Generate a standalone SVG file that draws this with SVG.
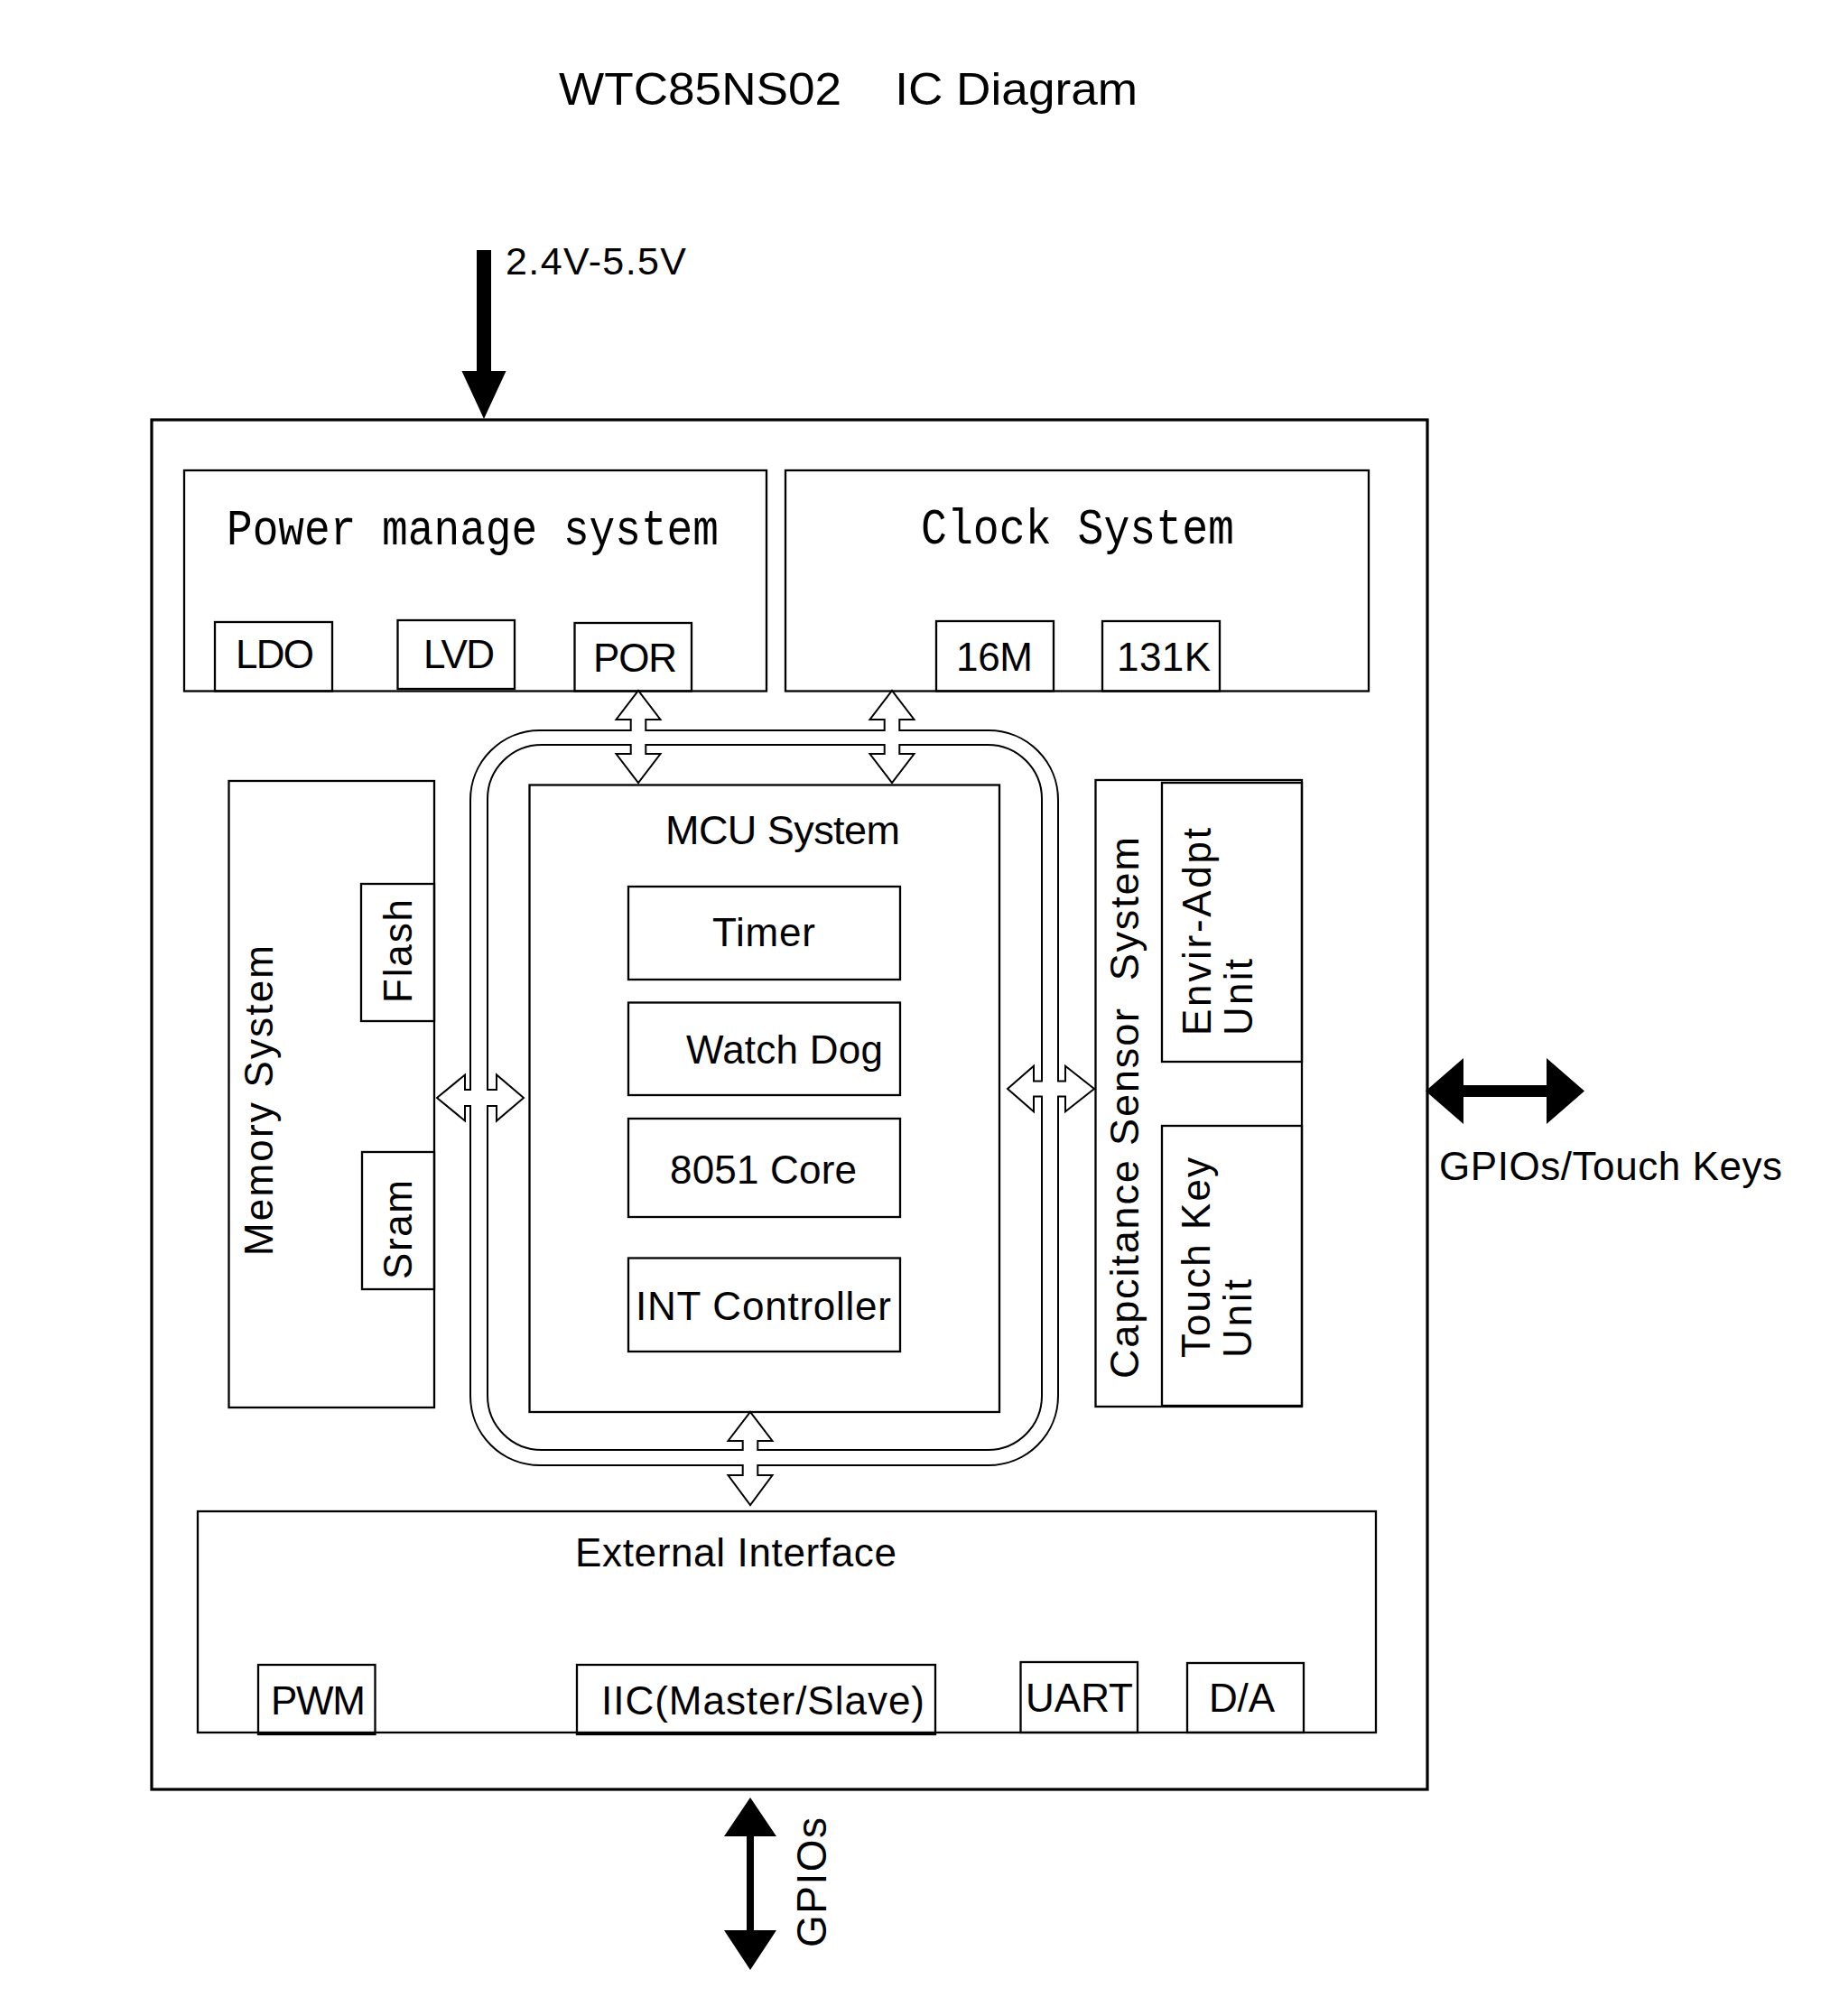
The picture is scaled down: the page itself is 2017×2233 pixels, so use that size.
<svg xmlns="http://www.w3.org/2000/svg" width="2017" height="2233" viewBox="0 0 2017 2233">
<style>
.bx{fill:none;stroke:#000;stroke-width:2.3}
.ob{fill:none;stroke:#000;stroke-width:3.2}
.t{font-family:"Liberation Sans",Arial,sans-serif;font-size:44px;fill:#000}
.m{font-family:"Liberation Mono","Courier New",monospace;font-size:56px;fill:#000}
.ring{fill:none;stroke:#000;stroke-width:2}
.hd{fill:#fff;stroke:#000;stroke-width:2;stroke-linejoin:miter}
.cv{fill:#fff;stroke:none}
.blk{fill:#000;stroke:none}
</style>
<rect width="2017" height="2233" fill="#fff"/>
<g id="title">
<text class="t" x="619" y="116" style="font-size:50px" textLength="641" lengthAdjust="spacingAndGlyphs" xml:space="preserve">WTC85NS02    IC Diagram</text>
</g>
<g id="chip">
<rect class="ob" x="168" y="465" width="1413" height="1517"/>
</g>
<g id="power-manage-system">
<rect class="bx" x="204" y="521" width="645" height="244.5"/>
<text class="m" x="251" y="603" textLength="545" lengthAdjust="spacingAndGlyphs">Power manage system</text>
<g id="ldo"><rect class="bx" x="238" y="689" width="130" height="76.5"/><text class="t" x="261" y="740" textLength="87" lengthAdjust="spacing">LDO</text></g>
<g id="lvd"><rect class="bx" x="440.5" y="687" width="129.5" height="76"/><text class="t" x="469" y="740" textLength="79" lengthAdjust="spacing">LVD</text></g>
<g id="por"><rect class="bx" x="636.5" y="690" width="129.5" height="75.5"/><text class="t" x="657" y="744" textLength="93" lengthAdjust="spacing">POR</text></g>
</g>
<g id="clock-system">
<rect class="bx" x="870" y="521" width="646" height="244.5"/>
<text class="m" x="1020" y="602" textLength="347" lengthAdjust="spacingAndGlyphs">Clock System</text>
<g id="osc-16m"><rect class="bx" x="1037" y="688" width="130" height="77.5"/><text class="t" x="1059" y="743" textLength="85" lengthAdjust="spacing">16M</text></g>
<g id="osc-131k"><rect class="bx" x="1221" y="688" width="130" height="77.5"/><text class="t" x="1237" y="743" textLength="104" lengthAdjust="spacing">131K</text></g>
</g>
<g id="memory-system">
<rect class="bx" x="253.5" y="865" width="227.5" height="694"/>
<text class="t" transform="translate(302,1391) rotate(-90)" textLength="344" lengthAdjust="spacing">Memory System</text>
<g id="flash"><rect class="bx" x="400" y="979" width="81" height="152"/><text class="t" transform="translate(456,1111) rotate(-90)" textLength="115" lengthAdjust="spacing">Flash</text></g>
<g id="sram"><rect class="bx" x="401" y="1276" width="80" height="152"/><text class="t" transform="translate(456,1417) rotate(-90)" textLength="110" lengthAdjust="spacing">Sram</text></g>
</g>
<g id="mcu-system">
<rect class="bx" x="586.5" y="869.5" width="520.5" height="694.5"/>
<text class="t" x="737" y="935" style="font-size:45px" textLength="260" lengthAdjust="spacing">MCU System</text>
<g id="timer"><rect class="bx" x="696" y="982" width="301" height="103"/><text class="t" x="789" y="1048" textLength="114" lengthAdjust="spacing">Timer</text></g>
<g id="watch-dog"><rect class="bx" x="696" y="1110.5" width="301" height="102.5"/><text class="t" x="760" y="1178" textLength="218" lengthAdjust="spacing">Watch Dog</text></g>
<g id="core-8051"><rect class="bx" x="696" y="1239" width="301" height="109"/><text class="t" x="742" y="1311" textLength="207" lengthAdjust="spacing">8051 Core</text></g>
<g id="int-controller"><rect class="bx" x="696" y="1393.5" width="301" height="103.5"/><text class="t" x="704" y="1462" textLength="283" lengthAdjust="spacing">INT Controller</text></g>
</g>
<g id="capacitance-sensor-system">
<rect class="bx" x="1213.5" y="864" width="228.5" height="694"/>
<text class="t" transform="translate(1261,1527) rotate(-90)" style="font-size:45px" textLength="600" lengthAdjust="spacing" xml:space="preserve">Capcitance Sensor  System</text>
<g id="envir-adpt-unit"><rect class="bx" x="1287" y="867" width="155" height="309"/>
<text class="t" transform="translate(1341,1147) rotate(-90)" textLength="230" lengthAdjust="spacing">Envir-Adpt</text>
<text class="t" transform="translate(1387,1147) rotate(-90)" textLength="85" lengthAdjust="spacing">Unit</text></g>
<g id="touch-key-unit"><rect class="bx" x="1287" y="1247" width="155" height="310"/>
<text class="t" transform="translate(1340,1504) rotate(-90)" textLength="222" lengthAdjust="spacing">Touch Key</text>
<text class="t" transform="translate(1386,1504) rotate(-90)" textLength="87" lengthAdjust="spacing">Unit</text></g>
</g>
<g id="external-interface">
<rect class="bx" x="219" y="1674" width="1305" height="245"/>
<text class="t" x="637" y="1735" textLength="356" lengthAdjust="spacing">External Interface</text>
<g id="pwm"><rect class="bx" x="286" y="1844" width="129.5" height="77"/><text class="t" x="300" y="1899" textLength="105" lengthAdjust="spacing">PWM</text></g>
<g id="iic"><rect class="bx" x="639" y="1844" width="397" height="77"/><text class="t" x="666" y="1899" textLength="358" lengthAdjust="spacing">IIC(Master/Slave)</text></g>
<g id="uart"><rect class="bx" x="1130.5" y="1841" width="129.5" height="78"/><text class="t" x="1136" y="1896" textLength="119" lengthAdjust="spacing">UART</text></g>
<g id="da"><rect class="bx" x="1315" y="1842" width="129" height="77"/><text class="t" x="1339" y="1896" textLength="73" lengthAdjust="spacing">D/A</text></g>
</g>
<g id="connectors">
<rect class="ring" x="521" y="809" width="651" height="814" rx="77" ry="77"/>
<rect class="ring" x="540" y="825" width="614" height="781" rx="60" ry="60"/>
<rect class="cv" x="699.7" y="806" width="14.6" height="22"/>
<rect class="cv" x="980.7" y="806" width="14.6" height="22"/>
<rect class="cv" x="823.7" y="1603" width="14.6" height="22"/>
<rect class="cv" x="518" y="1208" width="25" height="16"/>
<rect class="cv" x="1151" y="1198.4" width="24" height="15.2"/>
<polyline class="hd" points="698.7,809 698.7,797 682.5,797 707,765 731.5,797 715.3,797 715.3,809"/>
<polyline class="hd" points="698.7,825 698.7,835 682.5,835 707,867 731.5,835 715.3,835 715.3,825"/>
<polyline class="hd" points="979.7,809 979.7,797 963.5,797 988,765 1012.5,797 996.3,797 996.3,809"/>
<polyline class="hd" points="979.7,825 979.7,835 963.5,835 988,867 1012.5,835 996.3,835 996.3,825"/>
<polyline class="hd" points="822.7,1606 822.7,1596 806.5,1596 831,1564 855.5,1596 839.3,1596 839.3,1606"/>
<polyline class="hd" points="822.7,1623 822.7,1634 806.5,1634 831,1667 855.5,1634 839.3,1634 839.3,1623"/>
<polyline class="hd" points="521,1207 515,1207 515,1190.5 484,1216 515,1241.5 515,1225 521,1225"/>
<polyline class="hd" points="540,1207 550,1207 550,1190.5 580,1216 550,1241.5 550,1225 540,1225"/>
<polyline class="hd" points="1154,1197.4 1145,1197.4 1145,1180.7 1116,1206 1145,1231.3 1145,1214.6 1154,1214.6"/>
<polyline class="hd" points="1172,1197.4 1180,1197.4 1180,1180.7 1212,1206 1180,1231.3 1180,1214.6 1172,1214.6"/>
<polygon class="blk" points="528,277 544,277 544,411 560.5,411 536,464 511.5,411 528,411"/>
<polygon class="blk" points="1579,1208.5 1621,1172 1621,1202 1713,1202 1713,1172 1755,1208.5 1713,1245 1713,1215 1621,1215 1621,1245"/>
<polygon class="blk" points="831,1991 860,2034 835,2034 835,2138 860,2138 831,2182 802,2138 827,2138 827,2034 802,2034"/>
<text class="t" x="560" y="304" style="font-size:43px" textLength="200" lengthAdjust="spacing">2.4V-5.5V</text>
<text class="t" x="1594" y="1307" textLength="380" lengthAdjust="spacing">GPIOs/Touch Keys</text>
<text class="t" transform="translate(915,2157) rotate(-90)" style="font-size:46px" textLength="144" lengthAdjust="spacing">GPIOs</text>
</g>
</svg>
